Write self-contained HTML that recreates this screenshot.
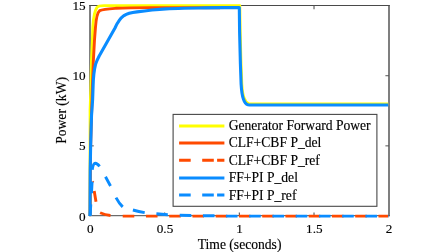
<!DOCTYPE html>
<html><head><meta charset="utf-8"><title>Power plot</title>
<style>
html,body{margin:0;padding:0;background:#fff;}
body{width:448px;height:252px;overflow:hidden;}
svg{display:block;}
text{font-family:"Liberation Serif","Times New Roman",serif;font-size:13.6px;fill:#000;stroke:#000;stroke-width:0.15px;}
</style></head><body>
<svg width="448" height="252" viewBox="0 0 448 252">
<rect width="448" height="252" fill="#fff"/>

<g stroke="#555" fill="none">
<path stroke-width="1.5" d="M90.0,5 V216.2 M389.0,5 V216.2"/>
<path stroke-width="1" stroke="#4a4a4a" d="M89.3,5.5 H389.7 M89.3,215.7 H389.7"/>
<path stroke-width="1.1" d="M164.68,216.0 v-3.6 M164.68,5.6 v3.6"/>
<path stroke-width="1.1" d="M239.35,216.0 v-3.6 M239.35,5.6 v3.6"/>
<path stroke-width="1.1" d="M314.02,216.0 v-3.6 M314.02,5.6 v3.6"/>
<path stroke-width="1" d="M90.2,145.87 h3.6 M389.0,145.87 h-3.6"/>
<path stroke-width="1" d="M90.2,75.73 h3.6 M389.0,75.73 h-3.6"/>
</g>
<g fill="none" stroke-width="2.9" stroke-linejoin="round">
<path stroke="#ffff00" d="M90.0,216 L90.1,110 L90.9,88 L91.5,60 L92.4,40 L92.85,27 C93.3,19 94.6,11 97,7.4 C98.2,6 100,5.65 104,5.65 H239.8 L240.2,32 L241.0,64 L241.8,84 C242.2,91 243,95.5 244.1,98 C245,100.5 246.3,102.8 248.7,103.7 C249.7,103.9 251,103.9 253,103.9 H388.2"/>
<path stroke="#ff4a00" d="M90.1,216 L90.5,150 L91.6,112 L92.3,88 L93.3,62 L94.5,40 L95.5,27 C96.0,20 96.8,13 99.7,10.6 C103,9.1 110,8.7 116,8.3 C125,7.9 135,7.7 150,7.6 C170,7.55 200,7.7 220,7.8"/>
<path stroke="#ff4a00" d="M92.2,181.8 L93.2,182.8 M94.2,191 L96,201.8 M100.1,212.7 C103,214 106,215 110.5,215.5 M122.70,216.1 H134.30 M145.95,216.1 H157.55 M169.20,216.1 H180.80 M192.45,216.1 H204.05 M215.70,216.1 H227.30 M238.95,216.1 H250.55 M262.20,216.1 H273.80 M285.45,216.1 H297.05 M308.70,216.1 H320.30 M331.95,216.1 H343.55 M355.20,216.1 H366.80 M378.45,216.1 H388.20"/>
<path stroke="#0a8cff" stroke-width="3.1" d="M90.0,216 L90.2,170 L90.6,148 L91.5,116 L92.6,100 L93.1,86 C93.3,78 93.8,71 95.5,64.5 C96.5,61.5 97.5,59.3 98.2,58 L99.2,56 L115,28 C117,23.5 120,18.5 124,15.6 C127,13.6 131,12.6 137,11.9 C142,11.3 147,10.6 152,10 C157,9.5 162,9.1 166,8.9 C172,8.6 178,8.45 184,8.3 C192,8.1 198,7.95 205,7.85 C215,7.7 222,7.65 230,7.62 L239.3,7.6 L239.6,32 L240.4,64 L241.1,84 C241.5,91 242.3,96 243.4,99 C244.3,101.8 245.5,104 248,104.8 C249,105 250,105 252,105 H388.2"/>
<path stroke="#0a8cff" d="M90.1,216 L90.8,204.4 M91.5,193.2 L92.1,181.6 M92.2,169.8 C92.8,166 93.8,163.4 95.3,163.3 C96.9,163.3 98.2,164.6 99.6,166.4 M105.5,176.8 L110.5,186 M116,197.6 Q119,203.2 122.7,206.9 M132.9,210 C137,211.1 141,212 144.7,212.7 M156.4,213.8 L167.8,214.7 M179.7,215.2 L191.3,215.5 M202.9,215.7 L214.5,215.8 M225.90,216.1 H237.50 M249.15,216.1 H260.75 M272.40,216.1 H284.00 M295.65,216.1 H307.25 M318.90,216.1 H330.50 M342.15,216.1 H353.75 M365.40,216.1 H377.00 M388.65,216.1 H388.20"/>
</g>
<rect x="173.1" y="114.4" width="203.8" height="91.9" fill="#fff" stroke="#484848" stroke-width="1.1"/>
<g fill="none" stroke-width="3">
<path stroke="#ffff00" d="M179.1,126 H224.4"/>
<path stroke="#ff4a00" d="M179.1,143 H224.4"/>
<path stroke="#ff4a00" d="M179.1,160.2 H190.7 M202.2,160.2 H213.8 M217.1,160.2 H224.4"/>
<path stroke="#0a8cff" d="M179.1,178 H224.4"/>
<path stroke="#0a8cff" d="M179.1,195.1 H190.7 M202.2,195.1 H213.8 M217.1,195.1 H224.4"/>
</g>
<text x="228.7" y="130.4">Generator Forward Power</text>
<text x="228.7" y="147.4">CLF+CBF P_del</text>
<text x="228.7" y="164.6">CLF+CBF P_ref</text>
<text x="228.7" y="182.4">FF+PI P_del</text>
<text x="228.7" y="199.5">FF+PI P_ref</text>
<text x="90.30" y="232.8" text-anchor="middle" style="font-size:13.2px">0</text>
<text x="164.98" y="232.8" text-anchor="middle" style="font-size:13.2px">0.5</text>
<text x="239.65" y="232.8" text-anchor="middle" style="font-size:13.2px">1</text>
<text x="314.32" y="232.8" text-anchor="middle" style="font-size:13.2px">1.5</text>
<text x="389.00" y="232.8" text-anchor="middle" style="font-size:13.2px">2</text>
<text x="85.6" y="220.60" text-anchor="end" style="font-size:13.2px">0</text>
<text x="85.6" y="150.47" text-anchor="end" style="font-size:13.2px">5</text>
<text x="85.6" y="80.33" text-anchor="end" style="font-size:13.2px">10</text>
<text x="85.6" y="10.20" text-anchor="end" style="font-size:13.2px">15</text>
<text x="239.6" y="248.7" text-anchor="middle">Time (seconds)</text>
<text transform="translate(66.1,110.4) rotate(-90)" text-anchor="middle">Power (kW)</text>
</svg></body></html>
